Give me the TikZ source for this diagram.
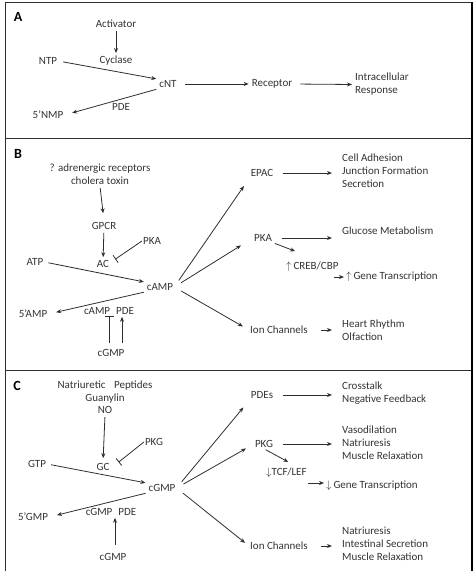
\documentclass[tikz,border=0pt]{standalone}
\usepackage{fontspec}
\setmainfont{Carlito}
\usetikzlibrary{arrows.meta,positioning,calc}
\definecolor{ink}{HTML}{2E2E2E}
\definecolor{textc}{HTML}{333333}
\definecolor{framec}{HTML}{2E2E2E}
\definecolor{shade}{HTML}{A8A8A8}
\tikzset{
    % Base label style
    lbl/.style={
        inner sep=1pt,
        font=\fontsize{11}{13}\selectfont,
        text=textc
    },
    % Outcome lists on the right
    outcome/.style={
        lbl,
        anchor=west,
        align=left
    },
    % Panel letters
    panel/.style={
        inner sep=0pt,
        font=\fontsize{14}{16}\selectfont\bfseries,
        text=black
    },
    % Arrow styles
    arr/.style={
        -{Stealth[length=5pt, width=4pt]},
        line width=0.8pt,
        color=ink,
        shorten <=2pt,
        shorten >=2pt
    },
    fan/.style={
        arr,
        shorten <=8pt,
        shorten >=10pt
    },
    eff/.style={
        arr,
        shorten <=9pt,
        shorten >=9pt
    },
    inh/.style={
        -{Bar[width=9pt]},
        line width=0.8pt,
        color=ink
    }
}
\begin{document}
\begin{tikzpicture}[x=1pt, y=-1pt]
        \useasboundingbox (0,0) rectangle (474,571);

        % Frame and dividers
        \draw[shade, line width=2.5pt] (472,2) -- (472,571);
        \draw[framec, line width=1pt] (5,571) -- (5,2) -- (471,2);
        \draw[framec, line width=0.8pt] (5,138) -- (471,138);
        \draw[framec, line width=0.8pt] (5,370) -- (471,370);

        % Panel A
        \node[panel] (pA) at (18,17) {A};
        \node[lbl] (actA) at (116,24) {Activator};
        \node[lbl] (cycA) at (116,61) {Cyclase};
        \node[lbl] (ntp) at (48,61) {NTP};
        \node[lbl] (cnt) at (168,84) {cNT};
        \node[lbl] (nmp) at (48,115) {5’NMP};
        \node[lbl] (pdeA) at (121,107) {PDE};
        \node[lbl] (recA) at (272,84) {Receptor};
        \node[outcome] (respA) at (354,84.5) {Intracellular\\Response};
        \draw[arr] (actA) -- (cycA);
        \draw[arr, shorten <=5pt] (ntp.east) -- (cnt.north west);
        \draw[arr, shorten >=8pt] (cnt.south west) -- (nmp.east);
        \draw[arr, shorten <=7pt] (cnt.east) -- (recA.west);
        \draw[arr, shorten <=7pt] (recA.east) -- (respA.west);

        % Panel B
        \node[panel] (pB) at (18,154) {B};
        \node[lbl, align=center] (stimB) at (100,174.5) {? adrenergic receptors\\cholera toxin};
        \node[lbl] (gpcr) at (104,226) {GPCR};
        \node[lbl] (ac) at (103,264) {AC};
        \node[lbl] (pkaB) at (152,241) {PKA};
        \node[lbl] (atp) at (35,262) {ATP};
        \node[lbl] (camp) at (160,287) {cAMP};
        \node[lbl] (amp) at (33,314) {5’AMP};
        \node[lbl] (pdeB) at (109,311) {cAMP\hspace{6pt}PDE};
        \node[lbl] (cgmpB) at (111,353) {cGMP};
        \draw[arr, shorten >=8pt] (stimB.south) -- (gpcr.north);
        \draw[arr] (gpcr) -- (ac);
        \draw[inh] (pkaB.west) -- ([xshift=5pt]ac.north east);
        \draw[arr, shorten <=4pt] (atp.east) -- (camp.north west);
        \draw[arr, shorten >=8pt] (camp.south west) -- (amp.east);
        \draw[inh, shorten <=5pt] ([xshift=-2pt]cgmpB.north) -- ([xshift=-2pt]cgmpB.north |- pdeB.south);
        \draw[arr, shorten <=5pt, shorten >=1pt] ([xshift=11pt]cgmpB.north) -- ([xshift=11pt]cgmpB.north |- pdeB.south);

        \node[lbl] (epac) at (262,173) {EPAC};
        \node[lbl] (pkaR) at (263,238) {PKA};
        \node[lbl] (ionB) at (279,330) {Ion Channels};
        \node[outcome] (cellB) at (341,170.5) {Cell Adhesion\\Junction Formation\\Secretion};
        \node[outcome] (glucB) at (341,231) {Glucose Metabolism};
        \node[outcome] (creb) at (285,267) {$\uparrow$\,CREB/CBP};
        \node[outcome] (geneB) at (345,277) {$\uparrow$\,Gene Transcription};
        \node[outcome] (heartB) at (341,330.5) {Heart Rhythm\\Olfaction};
        \draw[fan] (camp.east) -- (epac.south west);
        \draw[fan, shorten >=14pt] (camp.east) -- (pkaR.west);
        \draw[fan, shorten >=7pt] (camp.east) -- (ionB.west);
        \draw[eff] (epac.east) -- (epac.east -| cellB.west);
        \draw[eff] (pkaR.east) -- (pkaR.east -| glucB.west);
        \draw[arr] (pkaR.south east) -- ([xshift=12pt,yshift=9pt]creb.north west);
        \draw[arr, shorten <=0pt, shorten >=1pt] ([xshift=-6pt]geneB.west -| creb.east) -- (geneB.west);
        \draw[eff, shorten <=12pt] (ionB.east) -- (ionB.east -| heartB.west);

        % Panel C
        \node[panel] (pC) at (17,386) {C};
        \node[lbl, align=center, font=\fontsize{11}{12.5}\selectfont] (stimC) at (105,397.5) {Natriuretic\hspace{6pt} Peptides\\Guanylin\\NO};
        \node[lbl] (gc) at (103,467) {GC};
        \node[lbl] (pkgL) at (154,442) {PKG};
        \node[lbl] (gtp) at (37,464) {GTP};
        \node[lbl] (cgmp) at (162,488) {cGMP};
        \node[lbl] (gmp) at (33,517) {5’GMP};
        \node[lbl] (pdeC) at (111,512) {cGMP\hspace{6pt}PDE};
        \node[lbl] (cgmpC) at (113,557) {cGMP};
        \draw[arr, shorten >=4pt] (stimC.south) -- (gc.north);
        \draw[inh] (pkgL.west) -- ([xshift=8pt]gc.north east);
        \draw[arr, shorten <=4pt] (gtp.east) -- (cgmp.north west);
        \draw[arr, shorten >=8pt] (cgmp.south west) -- (gmp.east);
        \draw[arr, shorten <=7pt, shorten >=1pt] ([xshift=2pt]cgmpC.north) -- ([xshift=2pt]cgmpC.north |- pdeC.south);

        \node[lbl] (pdes) at (262,395) {PDEs};
        \node[lbl] (pkgR) at (264,444) {PKG};
        \node[lbl] (ionC) at (279,546) {Ion Channels};
        \node[outcome] (crossC) at (341,393) {Crosstalk\\Negative Feedback};
        \node[outcome] (vasoC) at (341,443) {Vasodilation\\Natriuresis\\Muscle Relaxation};
        \node[outcome] (tcf) at (265,473) {$\downarrow$TCF/LEF};
        \node[outcome] (geneC) at (325,486) {$\downarrow$\,Gene Transcription};
        \node[outcome] (natC) at (341,544) {Natriuresis\\Intestinal Secretion\\Muscle Relaxation};
        \draw[fan] (cgmp.east) -- (pdes.south west);
        \draw[fan, shorten >=9pt] (cgmp.east) -- (pkgR.west);
        \draw[fan, shorten >=5pt] (cgmp.east) -- (ionC.west);
        \draw[eff] (pdes.east) -- (pdes.east -| crossC.west);
        \draw[eff] (pkgR.east) -- (pkgR.east -| vasoC.west);
        \draw[arr] (pkgR.south) -- ([xshift=25pt,yshift=4pt]tcf.north west);
        \draw[arr, shorten <=0pt, shorten >=1pt] ([yshift=3pt]geneC.west -| tcf.east) -- ([yshift=3pt]geneC.west);
        \draw[eff, shorten <=12pt] (ionC.east) -- (ionC.east -| natC.west);

    \end{tikzpicture}
\end{document}
